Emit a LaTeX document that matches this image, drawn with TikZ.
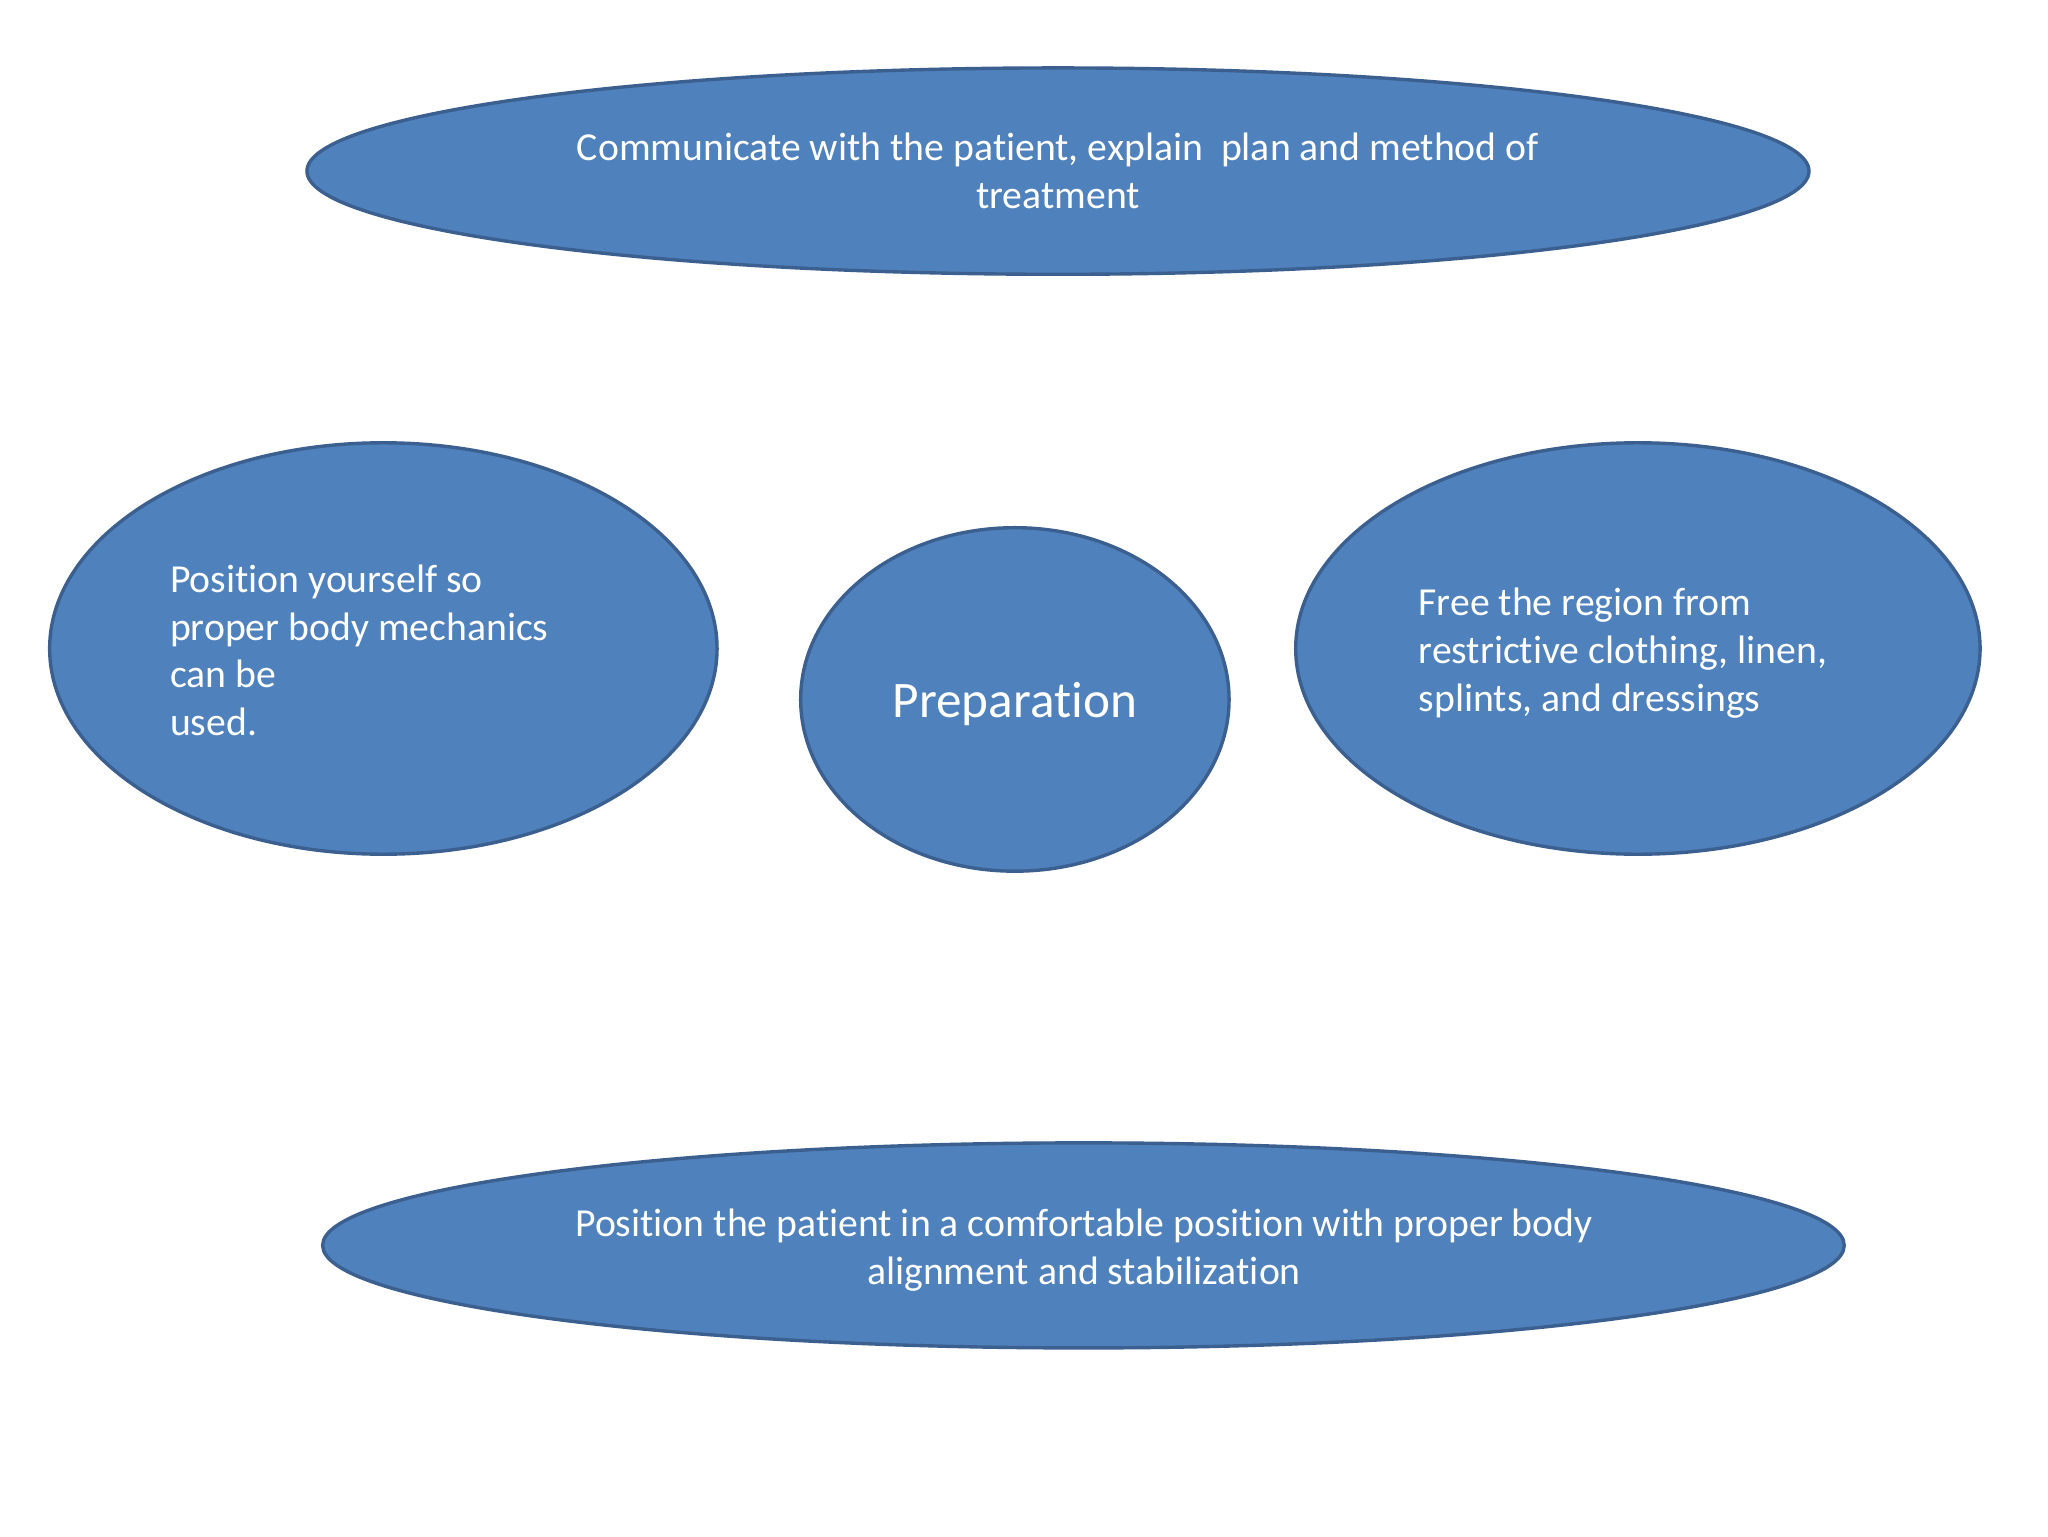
\documentclass[tikz,border=0pt]{standalone}
\usepackage{fontspec}
\setmainfont[Ligatures=NoCommon]{Carlito}
\usetikzlibrary{shapes.geometric}
\definecolor{fillblue}{HTML}{4F81BD}
\definecolor{edgeblue}{HTML}{3B5F8E}
\begin{document}
\begin{tikzpicture}[x=1pt,y=-1pt,
  bubble/.style 2 args={ellipse, draw=edgeblue, fill=fillblue, line width=2.6pt,
    inner sep=0pt, minimum width=#1, minimum height=#2},
  bodytext/.style={text=white, inner sep=0pt, font=\fontsize{30.4}{36.7}\selectfont},
  centertext/.style={bodytext, align=center}
]
\fill[white] (0,0) rectangle (1568,1176);
\useasboundingbox (0,0) rectangle (1568,1176);

\node[bubble={1150pt}{158pt}] (top) at (810,131) {};
\node[bubble={511pt}{315pt}] (left) at (293.5,496.5) {};
\node[bubble={328pt}{263pt}] (prep) at (777,535.5) {};
\node[bubble={524pt}{315pt}] (right) at (1254,496.5) {};
\node[bubble={1165pt}{157pt}] (bottom) at (829.5,953.5) {};

\node[centertext] (toptext) at (810,131) {Communicate with the patient, explain\ \ plan and method of\\treatment};
\node[centertext] (bottomtext) at (830,957) {Position the patient in a comfortable position with proper body\\alignment and stabilization};
\node[bodytext, align=left, anchor=north west] (lefttext) at (130,432) {Position yourself so\\proper body mechanics\\can be\\used.};
\node[bodytext, align=left, anchor=north west] (righttext) at (1086,450) {Free the region from\\restrictive clothing, linen,\\splints, and dressings};
\node[text=white, inner sep=0pt, font=\fontsize{39.2}{47}\selectfont] (preptext) at (777,539) {Preparation};
\end{tikzpicture}
\end{document}
